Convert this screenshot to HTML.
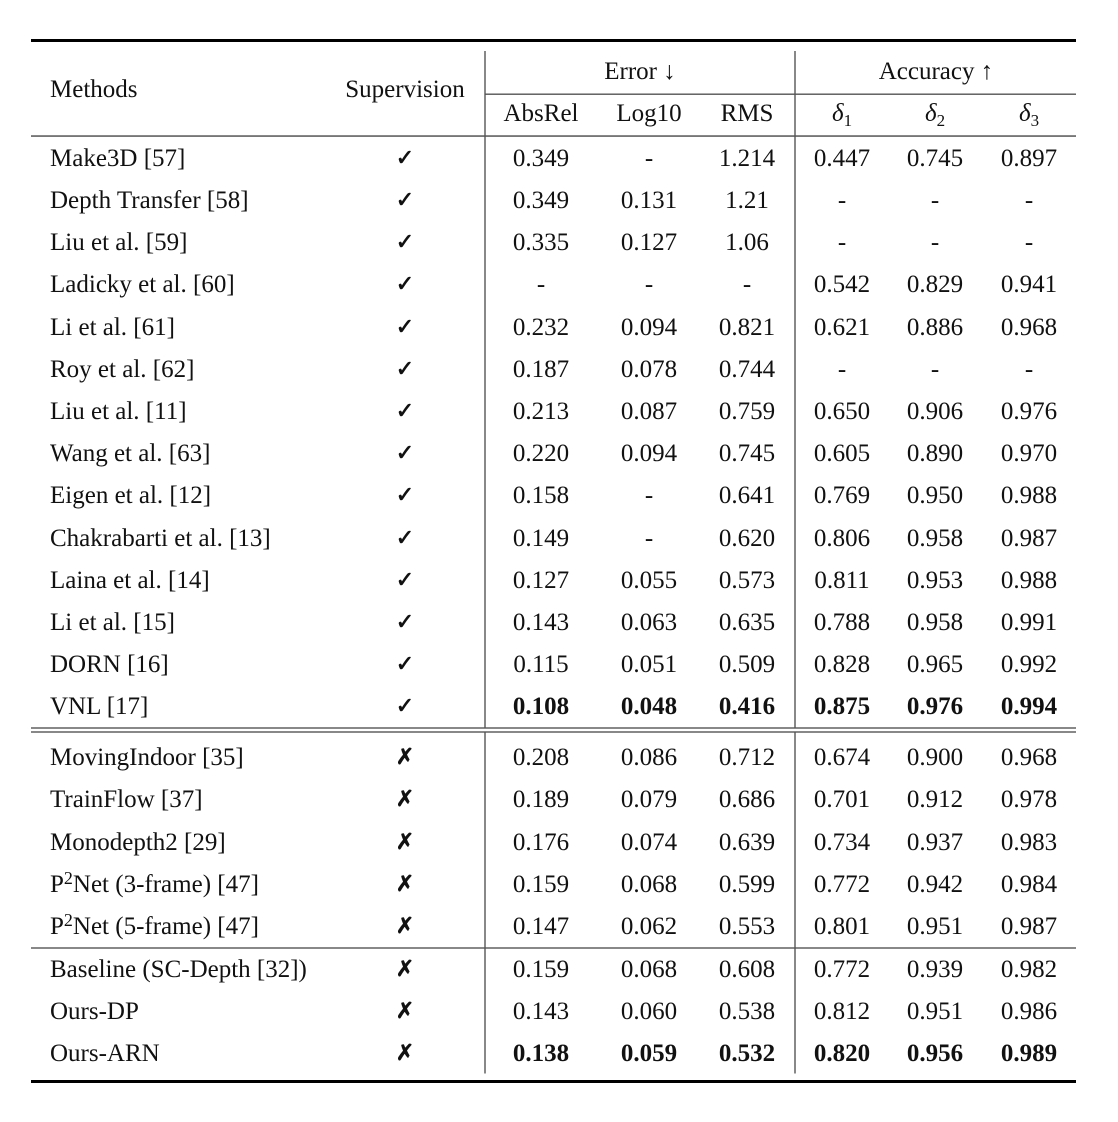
<!DOCTYPE html>
<html><head><meta charset="utf-8">
<style>
html,body{margin:0;padding:0;background:#fff;}
#c{position:relative;width:1118px;height:1122px;overflow:hidden;background:#fff;font-family:"Liberation Serif","DejaVu Serif",serif;color:#111;}
.t{position:absolute;font-size:25px;line-height:25px;height:25px;white-space:nowrap;}
.m{left:50px;}
.c{text-align:center;width:120px;}
.b{font-weight:bold;}
.k{font-family:"DejaVu Sans",sans-serif;font-size:22px;font-weight:bold;-webkit-text-stroke:0.7px #111;}
sub{font-size:17px;vertical-align:-5px;line-height:0;}
sup{font-size:18px;vertical-align:8px;line-height:0;}
svg{position:absolute;left:0;top:0;}
</style></head><body><div id="c">
<svg width="1118" height="1122">
<rect x="31" y="39" width="1045" height="3" fill="#000"/>
<rect x="485" y="93.5" width="591" height="1.4" fill="#555"/>
<rect x="31" y="135.3" width="1045" height="1.5" fill="#555"/>
<rect x="31" y="727.3" width="1045" height="1.4" fill="#555"/>
<rect x="31" y="731.3" width="1045" height="1.4" fill="#555"/>
<rect x="31" y="947.3" width="1045" height="1.4" fill="#555"/>
<rect x="31" y="1080" width="1045" height="3" fill="#000"/>
<rect x="484.3" y="51" width="1.4" height="676.5" fill="#555"/>
<rect x="484.3" y="732.5" width="1.4" height="341" fill="#555"/>
<rect x="794.3" y="51" width="1.4" height="676.5" fill="#555"/>
<rect x="794.3" y="732.5" width="1.4" height="341" fill="#555"/>
</svg>

<div class="t m" style="top:77px">Methods</div>
<div class="t c" style="left:345px;top:77px">Supervision</div>
<div class="t c" style="left:540px;top:59px;width:200px">Error ↓</div>
<div class="t c" style="left:836px;top:59px;width:200px">Accuracy ↑</div>
<div class="t c" style="left:481px;top:101px">AbsRel</div>
<div class="t c" style="left:589px;top:101px">Log10</div>
<div class="t c" style="left:687px;top:101px">RMS</div>
<div class="t c" style="left:782px;top:101px"><i>δ</i><sub>1</sub></div>
<div class="t c" style="left:875px;top:101px"><i>δ</i><sub>2</sub></div>
<div class="t c" style="left:969px;top:101px"><i>δ</i><sub>3</sub></div>

<div class="t m" style="top:145.5px">Make3D [57]</div><div class="t c k" style="left:345px;top:145.5px">✓</div><div class="t c" style="left:481px;top:145.5px">0.349</div><div class="t c" style="left:589px;top:145.5px">-</div><div class="t c" style="left:687px;top:145.5px">1.214</div><div class="t c" style="left:782px;top:145.5px">0.447</div><div class="t c" style="left:875px;top:145.5px">0.745</div><div class="t c" style="left:969px;top:145.5px">0.897</div>

<div class="t m" style="top:187.5px">Depth Transfer [58]</div><div class="t c k" style="left:345px;top:187.5px">✓</div><div class="t c" style="left:481px;top:187.5px">0.349</div><div class="t c" style="left:589px;top:187.5px">0.131</div><div class="t c" style="left:687px;top:187.5px">1.21</div><div class="t c" style="left:782px;top:187.5px">-</div><div class="t c" style="left:875px;top:187.5px">-</div><div class="t c" style="left:969px;top:187.5px">-</div>

<div class="t m" style="top:229.5px">Liu et al. [59]</div><div class="t c k" style="left:345px;top:229.5px">✓</div><div class="t c" style="left:481px;top:229.5px">0.335</div><div class="t c" style="left:589px;top:229.5px">0.127</div><div class="t c" style="left:687px;top:229.5px">1.06</div><div class="t c" style="left:782px;top:229.5px">-</div><div class="t c" style="left:875px;top:229.5px">-</div><div class="t c" style="left:969px;top:229.5px">-</div>

<div class="t m" style="top:271.5px">Ladicky et al. [60]</div><div class="t c k" style="left:345px;top:271.5px">✓</div><div class="t c" style="left:481px;top:271.5px">-</div><div class="t c" style="left:589px;top:271.5px">-</div><div class="t c" style="left:687px;top:271.5px">-</div><div class="t c" style="left:782px;top:271.5px">0.542</div><div class="t c" style="left:875px;top:271.5px">0.829</div><div class="t c" style="left:969px;top:271.5px">0.941</div>

<div class="t m" style="top:314.5px">Li et al. [61]</div><div class="t c k" style="left:345px;top:314.5px">✓</div><div class="t c" style="left:481px;top:314.5px">0.232</div><div class="t c" style="left:589px;top:314.5px">0.094</div><div class="t c" style="left:687px;top:314.5px">0.821</div><div class="t c" style="left:782px;top:314.5px">0.621</div><div class="t c" style="left:875px;top:314.5px">0.886</div><div class="t c" style="left:969px;top:314.5px">0.968</div>

<div class="t m" style="top:356.5px">Roy et al. [62]</div><div class="t c k" style="left:345px;top:356.5px">✓</div><div class="t c" style="left:481px;top:356.5px">0.187</div><div class="t c" style="left:589px;top:356.5px">0.078</div><div class="t c" style="left:687px;top:356.5px">0.744</div><div class="t c" style="left:782px;top:356.5px">-</div><div class="t c" style="left:875px;top:356.5px">-</div><div class="t c" style="left:969px;top:356.5px">-</div>

<div class="t m" style="top:398.5px">Liu et al. [11]</div><div class="t c k" style="left:345px;top:398.5px">✓</div><div class="t c" style="left:481px;top:398.5px">0.213</div><div class="t c" style="left:589px;top:398.5px">0.087</div><div class="t c" style="left:687px;top:398.5px">0.759</div><div class="t c" style="left:782px;top:398.5px">0.650</div><div class="t c" style="left:875px;top:398.5px">0.906</div><div class="t c" style="left:969px;top:398.5px">0.976</div>

<div class="t m" style="top:440.5px">Wang et al. [63]</div><div class="t c k" style="left:345px;top:440.5px">✓</div><div class="t c" style="left:481px;top:440.5px">0.220</div><div class="t c" style="left:589px;top:440.5px">0.094</div><div class="t c" style="left:687px;top:440.5px">0.745</div><div class="t c" style="left:782px;top:440.5px">0.605</div><div class="t c" style="left:875px;top:440.5px">0.890</div><div class="t c" style="left:969px;top:440.5px">0.970</div>

<div class="t m" style="top:482.5px">Eigen et al. [12]</div><div class="t c k" style="left:345px;top:482.5px">✓</div><div class="t c" style="left:481px;top:482.5px">0.158</div><div class="t c" style="left:589px;top:482.5px">-</div><div class="t c" style="left:687px;top:482.5px">0.641</div><div class="t c" style="left:782px;top:482.5px">0.769</div><div class="t c" style="left:875px;top:482.5px">0.950</div><div class="t c" style="left:969px;top:482.5px">0.988</div>

<div class="t m" style="top:525.5px">Chakrabarti et al. [13]</div><div class="t c k" style="left:345px;top:525.5px">✓</div><div class="t c" style="left:481px;top:525.5px">0.149</div><div class="t c" style="left:589px;top:525.5px">-</div><div class="t c" style="left:687px;top:525.5px">0.620</div><div class="t c" style="left:782px;top:525.5px">0.806</div><div class="t c" style="left:875px;top:525.5px">0.958</div><div class="t c" style="left:969px;top:525.5px">0.987</div>

<div class="t m" style="top:567.5px">Laina et al. [14]</div><div class="t c k" style="left:345px;top:567.5px">✓</div><div class="t c" style="left:481px;top:567.5px">0.127</div><div class="t c" style="left:589px;top:567.5px">0.055</div><div class="t c" style="left:687px;top:567.5px">0.573</div><div class="t c" style="left:782px;top:567.5px">0.811</div><div class="t c" style="left:875px;top:567.5px">0.953</div><div class="t c" style="left:969px;top:567.5px">0.988</div>

<div class="t m" style="top:609.5px">Li et al. [15]</div><div class="t c k" style="left:345px;top:609.5px">✓</div><div class="t c" style="left:481px;top:609.5px">0.143</div><div class="t c" style="left:589px;top:609.5px">0.063</div><div class="t c" style="left:687px;top:609.5px">0.635</div><div class="t c" style="left:782px;top:609.5px">0.788</div><div class="t c" style="left:875px;top:609.5px">0.958</div><div class="t c" style="left:969px;top:609.5px">0.991</div>

<div class="t m" style="top:651.5px">DORN [16]</div><div class="t c k" style="left:345px;top:651.5px">✓</div><div class="t c" style="left:481px;top:651.5px">0.115</div><div class="t c" style="left:589px;top:651.5px">0.051</div><div class="t c" style="left:687px;top:651.5px">0.509</div><div class="t c" style="left:782px;top:651.5px">0.828</div><div class="t c" style="left:875px;top:651.5px">0.965</div><div class="t c" style="left:969px;top:651.5px">0.992</div>

<div class="t m" style="top:693.5px">VNL [17]</div><div class="t c k" style="left:345px;top:693.5px">✓</div><div class="t c b" style="left:481px;top:693.5px">0.108</div><div class="t c b" style="left:589px;top:693.5px">0.048</div><div class="t c b" style="left:687px;top:693.5px">0.416</div><div class="t c b" style="left:782px;top:693.5px">0.875</div><div class="t c b" style="left:875px;top:693.5px">0.976</div><div class="t c b" style="left:969px;top:693.5px">0.994</div>

<div class="t m" style="top:744.5px">MovingIndoor [35]</div><div class="t c k" style="left:345px;top:744.5px">✗</div><div class="t c" style="left:481px;top:744.5px">0.208</div><div class="t c" style="left:589px;top:744.5px">0.086</div><div class="t c" style="left:687px;top:744.5px">0.712</div><div class="t c" style="left:782px;top:744.5px">0.674</div><div class="t c" style="left:875px;top:744.5px">0.900</div><div class="t c" style="left:969px;top:744.5px">0.968</div>

<div class="t m" style="top:786.5px">TrainFlow [37]</div><div class="t c k" style="left:345px;top:786.5px">✗</div><div class="t c" style="left:481px;top:786.5px">0.189</div><div class="t c" style="left:589px;top:786.5px">0.079</div><div class="t c" style="left:687px;top:786.5px">0.686</div><div class="t c" style="left:782px;top:786.5px">0.701</div><div class="t c" style="left:875px;top:786.5px">0.912</div><div class="t c" style="left:969px;top:786.5px">0.978</div>

<div class="t m" style="top:829.5px">Monodepth2 [29]</div><div class="t c k" style="left:345px;top:829.5px">✗</div><div class="t c" style="left:481px;top:829.5px">0.176</div><div class="t c" style="left:589px;top:829.5px">0.074</div><div class="t c" style="left:687px;top:829.5px">0.639</div><div class="t c" style="left:782px;top:829.5px">0.734</div><div class="t c" style="left:875px;top:829.5px">0.937</div><div class="t c" style="left:969px;top:829.5px">0.983</div>

<div class="t m" style="top:871.5px">P<sup>2</sup>Net (3-frame) [47]</div><div class="t c k" style="left:345px;top:871.5px">✗</div><div class="t c" style="left:481px;top:871.5px">0.159</div><div class="t c" style="left:589px;top:871.5px">0.068</div><div class="t c" style="left:687px;top:871.5px">0.599</div><div class="t c" style="left:782px;top:871.5px">0.772</div><div class="t c" style="left:875px;top:871.5px">0.942</div><div class="t c" style="left:969px;top:871.5px">0.984</div>

<div class="t m" style="top:913.5px">P<sup>2</sup>Net (5-frame) [47]</div><div class="t c k" style="left:345px;top:913.5px">✗</div><div class="t c" style="left:481px;top:913.5px">0.147</div><div class="t c" style="left:589px;top:913.5px">0.062</div><div class="t c" style="left:687px;top:913.5px">0.553</div><div class="t c" style="left:782px;top:913.5px">0.801</div><div class="t c" style="left:875px;top:913.5px">0.951</div><div class="t c" style="left:969px;top:913.5px">0.987</div>

<div class="t m" style="top:956.5px">Baseline (SC-Depth [32])</div><div class="t c k" style="left:345px;top:956.5px">✗</div><div class="t c" style="left:481px;top:956.5px">0.159</div><div class="t c" style="left:589px;top:956.5px">0.068</div><div class="t c" style="left:687px;top:956.5px">0.608</div><div class="t c" style="left:782px;top:956.5px">0.772</div><div class="t c" style="left:875px;top:956.5px">0.939</div><div class="t c" style="left:969px;top:956.5px">0.982</div>

<div class="t m" style="top:998.5px">Ours-DP</div><div class="t c k" style="left:345px;top:998.5px">✗</div><div class="t c" style="left:481px;top:998.5px">0.143</div><div class="t c" style="left:589px;top:998.5px">0.060</div><div class="t c" style="left:687px;top:998.5px">0.538</div><div class="t c" style="left:782px;top:998.5px">0.812</div><div class="t c" style="left:875px;top:998.5px">0.951</div><div class="t c" style="left:969px;top:998.5px">0.986</div>

<div class="t m" style="top:1040.5px">Ours-ARN</div><div class="t c k" style="left:345px;top:1040.5px">✗</div><div class="t c b" style="left:481px;top:1040.5px">0.138</div><div class="t c b" style="left:589px;top:1040.5px">0.059</div><div class="t c b" style="left:687px;top:1040.5px">0.532</div><div class="t c b" style="left:782px;top:1040.5px">0.820</div><div class="t c b" style="left:875px;top:1040.5px">0.956</div><div class="t c b" style="left:969px;top:1040.5px">0.989</div>

</div></body></html>
